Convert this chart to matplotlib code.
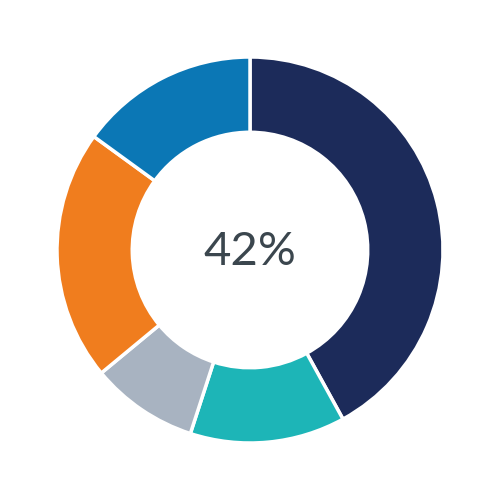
import matplotlib.pyplot as plt

# slice shares, clockwise from 12 o'clock
labels = ["Navy", "Teal", "Gray", "Orange", "Blue"]
values = [42, 13, 9, 21, 15]
colors = ["#1c2b5a", "#1db5b7", "#a8b3c1", "#f07d1e", "#0b77b5"]
center_text = "42%"

fig = plt.figure(figsize=(5, 5), dpi=100)
ax = fig.add_axes([0, 0, 1, 1])

ax.pie(values, colors=colors, startangle=90, counterclock=False,
       radius=1.0,
       wedgeprops=dict(width=0.39, edgecolor="white", linewidth=2.5))

ax.text(0, -0.01, center_text, ha="center", va="center", fontsize=34,
        color="#3b464e", family=["Lato", "DejaVu Sans"], fontweight="normal")

lim = 250 / 193
ax.set_xlim(-lim, lim)
ax.set_ylim(-lim, lim)
ax.set_aspect("equal")
ax.axis("off")

plt.savefig("out.png", dpi=100, facecolor="white")
